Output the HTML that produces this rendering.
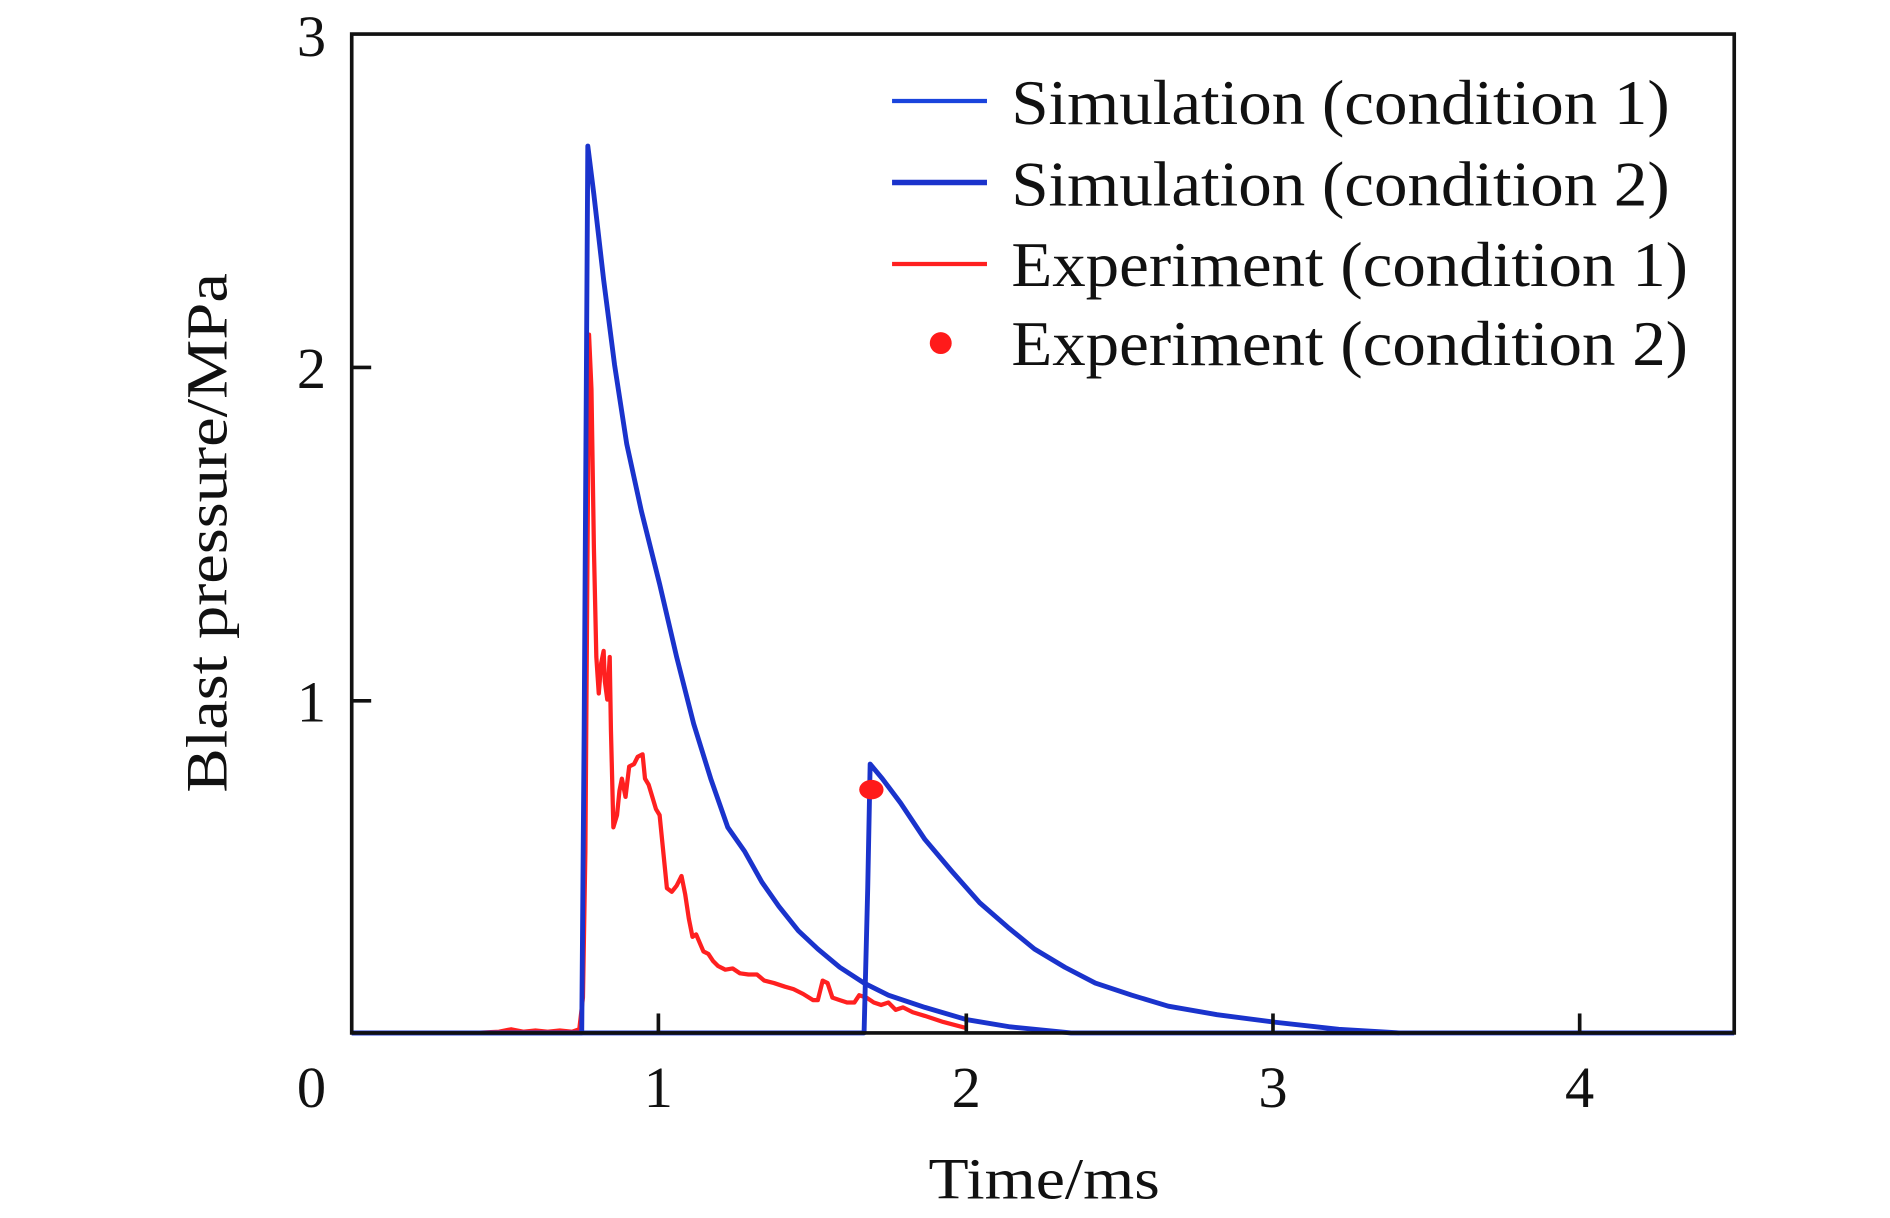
<!DOCTYPE html>
<html><head><style>html,body{margin:0;padding:0;background:#fff;overflow:hidden}</style></head>
<body>
<svg width="1890" height="1213" viewBox="0 0 1553 997" preserveAspectRatio="none" xmlns="http://www.w3.org/2000/svg" font-family="'Liberation Serif', serif">
<rect width="1553" height="997" fill="#fff"/>
<g fill="none" stroke-linejoin="round">
<polyline stroke="#ff2020" stroke-width="3.5" points="390,849 410,848 420,846 430,848 440,847 450,848 460,847 470,848 476,846 479,820 481,700 483,420 484,275 486,320 488,450 490,540 492,570 494,545 496,535 497,560 499,575 501,540 502,600 504,680 507,670 509,650 511,640 514,655 517,630 521,628 524,622 528,620 530,640 533,645 536,655 539,665 542,670 545,700 548,730 552,733 556,728 560,720 563,735 566,755 569,770 572,768 575,775 578,782 582,784 586,790 590,794 596,797 602,796 608,800 615,801 622,801 628,806 636,808 645,811 652,813 660,817 668,822 672,822 676,806 680,808 684,820 690,822 696,824 702,824 706,818 712,820 718,824 724,826 730,824 736,830 742,828 750,832 760,835 775,840 794,845"/>
<polyline stroke="#1a33cc" stroke-width="4" points="289,849 478,849 480,600 483,120 488,160 496,230 505,300 515,365 527,420 542,480 556,540 570,595 584,640 598,680 612,700 626,725 640,745 656,765 672,780 690,795 710,808 730,818 760,828 794,838 830,844 880,849 1425,849"/>
<polyline stroke="#1a33cc" stroke-width="4" points="289,849 710,849 713,730 715,628 725,640 740,660 760,690 782,716 805,742 828,762 850,780 875,795 900,808 930,818 960,827 1000,834 1046,840 1100,846 1150,849"/>
</g>
<ellipse cx="716" cy="649" rx="10" ry="8" fill="#ff1a1a"/>
<rect x="289" y="28" width="1136" height="821" fill="none" stroke="#111" stroke-width="3"/>
<g stroke="#111" stroke-width="3">
<line x1="541" y1="849" x2="541" y2="833"/><line x1="794" y1="849" x2="794" y2="833"/>
<line x1="1046" y1="849" x2="1046" y2="833"/><line x1="1298" y1="849" x2="1298" y2="833"/>
<line x1="289" y1="302" x2="305" y2="302"/><line x1="289" y1="576" x2="305" y2="576"/>
</g>
<g font-size="48" fill="#111" text-anchor="middle">
<text x="256" y="46">3</text><text x="256" y="319">2</text><text x="256" y="593">1</text>
<text x="256" y="910">0</text><text x="541" y="910">1</text><text x="794" y="910">2</text><text x="1046" y="910">3</text><text x="1298" y="910">4</text>
<text x="858" y="985" textLength="190" lengthAdjust="spacingAndGlyphs">Time/ms</text>
<text transform="translate(186,438) rotate(-90)" textLength="427" lengthAdjust="spacingAndGlyphs">Blast pressure/MPa</text>
</g>
<g stroke-width="3.5">
<line x1="733" y1="83" x2="811" y2="83" stroke="#1a44dd"/>
<line x1="733" y1="150" x2="811" y2="150" stroke="#1a33cc" stroke-width="4.5"/>
<line x1="733" y1="217" x2="811" y2="217" stroke="#ff2020"/>
</g>
<circle cx="773" cy="282" r="9" fill="#ff1a1a"/>
<g font-size="52" fill="#111">
<text x="831" y="102" textLength="541" lengthAdjust="spacingAndGlyphs">Simulation (condition 1)</text>
<text x="831" y="169" textLength="541" lengthAdjust="spacingAndGlyphs">Simulation (condition 2)</text>
<text x="831" y="235" textLength="556" lengthAdjust="spacingAndGlyphs">Experiment (condition 1)</text>
<text x="831" y="300" textLength="556" lengthAdjust="spacingAndGlyphs">Experiment (condition 2)</text>
</g>
</svg>
</body></html>
